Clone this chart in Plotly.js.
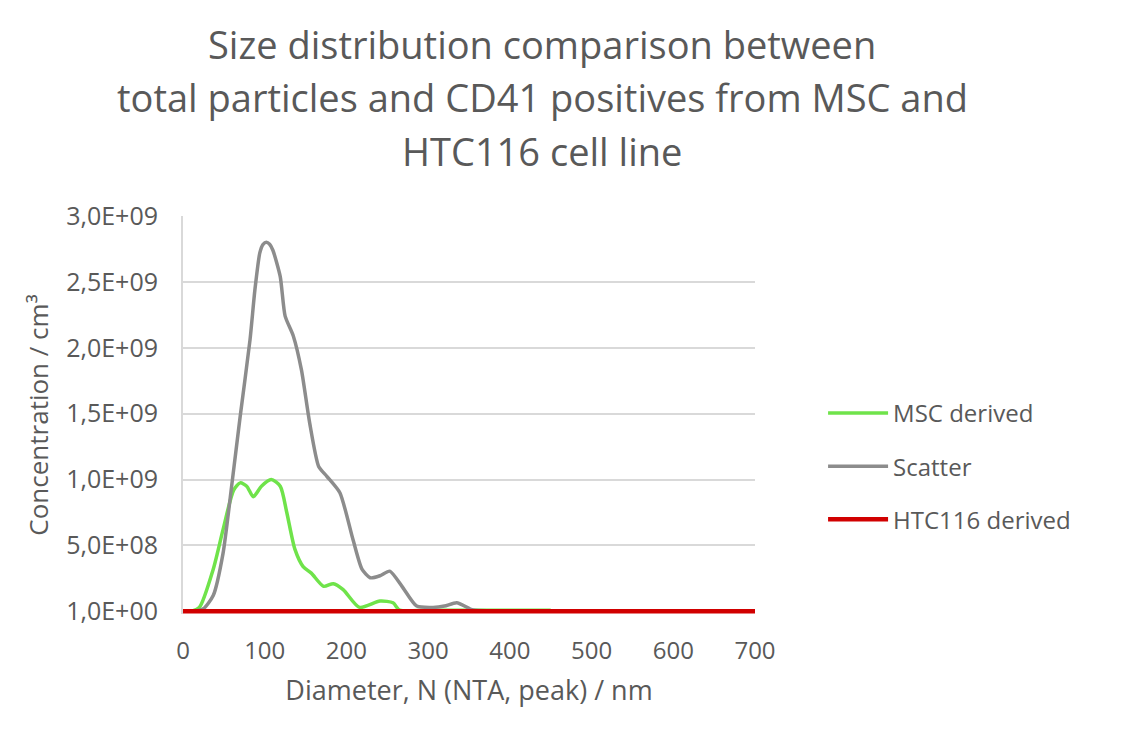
<!DOCTYPE html>
<html>
<head>
<meta charset="utf-8">
<script src="https://cdn.plot.ly/plotly-3.0.1.min.js"></script>
<style>
  html, body { margin: 0; padding: 0; background: #fff; }
  #chart { width: 1140px; height: 734px; }
</style>
</head>
<body>
<div id="chart"></div>
<script>
// values (diameter in nm, concentration per cm3)
var scatterDiam = [10, 15, 25, 37, 49, 60, 70, 82, 88, 94, 98, 102, 106, 110, 119, 125, 135, 145, 155, 166, 176, 192, 208, 219, 229, 241, 253, 268, 286, 306, 320, 335, 355, 380, 700];
var scatterConc = [0, 0.002e9, 0.02e9, 0.12e9, 0.44e9, 0.975e9, 1.48e9, 2.06e9, 2.44e9, 2.72e9, 2.785e9, 2.80e9, 2.785e9, 2.74e9, 2.54e9, 2.24e9, 2.09e9, 1.83e9, 1.43e9, 1.1e9, 1.025e9, 0.9e9, 0.545e9, 0.32e9, 0.255e9, 0.27e9, 0.305e9, 0.19e9, 0.04e9, 0.03e9, 0.04e9, 0.066e9, 0.01e9, 0.005e9, 0.005e9];

var mscDiam = [10, 20, 37, 49, 62, 70, 78, 86, 96, 108, 119, 127, 137, 147, 157, 172, 184, 196, 216, 241, 257, 265, 300, 450];
var mscConc = [0, 0.03e9, 0.32e9, 0.62e9, 0.92e9, 0.975e9, 0.95e9, 0.87e9, 0.95e9, 1.0e9, 0.95e9, 0.75e9, 0.47e9, 0.34e9, 0.29e9, 0.19e9, 0.21e9, 0.165e9, 0.03e9, 0.078e9, 0.065e9, 0.01e9, 0.008e9, 0.008e9];

var htcDiam = [0, 100, 200, 300, 400, 500, 600, 700];
var htcConc = [0, 0, 0, 0, 0, 0, 0, 0];

var seriesNames = ["MSC derived", "Scatter", "HTC116 derived"];
var yTickVals = [0, 5e8, 1e9, 1.5e9, 2e9, 2.5e9, 3e9];
var yTickText = ["1,0E+00", "5,0E+08", "1,0E+09", "1,5E+09", "2,0E+09", "2,5E+09", "3,0E+09"];
var xTickVals = [0, 100, 200, 300, 400, 500, 600, 700];
var titleLines = [
  "Size distribution comparison between",
  "total particles and CD41 positives from MSC and",
  "HTC116 cell line"
];

var txtColor = "#595959";
var fontFam = "'Open Sans', 'Noto Sans', sans-serif";

var data = [
  {x: mscDiam, y: mscConc, name: seriesNames[0], type: "scatter", mode: "lines",
   line: {color: "#6fe34a", width: 3.5, shape: "spline", smoothing: 0.7}, legendgroup: "a"},
  {x: scatterDiam, y: scatterConc, name: seriesNames[1], type: "scatter", mode: "lines",
   line: {color: "#8c8c8c", width: 3.5, shape: "spline", smoothing: 0.6}, legendgroup: "b"},
  {x: htcDiam, y: htcConc, name: seriesNames[2], type: "scatter", mode: "lines",
   line: {color: "#d10000", width: 4.5}, legendgroup: "c"}
];

var annotations = titleLines.map(function (t, i) {
  return {text: t, xref: "paper", yref: "paper", x: 0.628, y: 1 + (171 - i * 53) / 396,
          xanchor: "center", yanchor: "middle", showarrow: false,
          font: {family: fontFam, size: 38, color: txtColor}};
});

var layout = {
  width: 1140, height: 734,
  margin: {l: 183, r: 385, t: 216, b: 120, pad: 0},
  paper_bgcolor: "#fff", plot_bgcolor: "#fff",
  font: {family: fontFam, color: txtColor, size: 24},
  showlegend: true,
  legend: {x: 1.119, xanchor: "left", y: 0.371, yanchor: "middle",
           traceorder: "grouped", tracegroupgap: 19, itemwidth: 60,
           font: {family: fontFam, size: 24, color: txtColor}},
  xaxis: {range: [0, 700], tickvals: xTickVals, showgrid: false, zeroline: false,
          showline: false, ticks: "", ticklabelstandoff: 20,
          tickfont: {size: 24, color: txtColor},
          title: {text: "Diameter, N (NTA, peak) / nm", font: {size: 27, color: txtColor}, standoff: 16}},
  yaxis: {range: [-0.02e9, 3.0e9], tickvals: yTickVals, ticktext: yTickText,
          showgrid: true, gridcolor: "#d9d9d9", gridwidth: 2, zeroline: false,
          showline: true, linecolor: "#d9d9d9", linewidth: 2, ticks: "", ticklabelstandoff: 18,
          tickfont: {size: 25, color: txtColor},
          title: {text: "Concentration / cm³", font: {size: 26, color: txtColor}, standoff: 10}},
  annotations: annotations
};

Plotly.newPlot("chart", data, layout, {displayModeBar: false, staticPlot: true});
</script>
</body>
</html>
